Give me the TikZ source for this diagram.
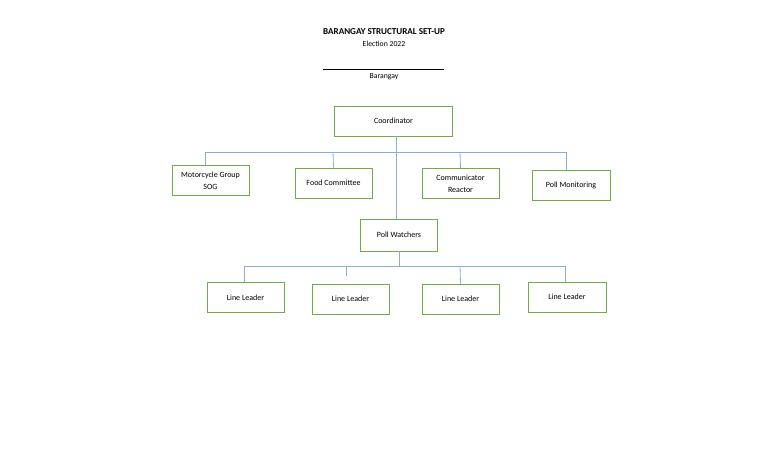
\documentclass[tikz,border=0pt]{standalone}
\usepackage{fontspec}
\setmainfont{Carlito}
\tikzset{
  box/.style={draw={rgb,255:red,112;green,173;blue,71},line width=0.7,minimum width=57.75pt,minimum height=22.5pt,inner sep=1pt,align=center,font=\fontsize{6}{9}\selectfont},
  link/.style={draw={rgb,255:red,143;green,170;blue,220},line width=0.6}
}
\begin{document}
\begin{tikzpicture}[x=0.75pt,y=0.75pt,yscale=-1,xscale=1]
\useasboundingbox (0,0) rectangle (768,466);

\node (title) at (384,32) {\fontsize{6.8}{8}\selectfont\bfseries BARANGAY STRUCTURAL SET-UP};
\node (year) at (384,44) {\fontsize{5.8}{7}\selectfont Election 2022};
\draw [line width=0.4] (323,69) -- (444,69);
\node (brgy) at (384,77) {\fontsize{5.8}{7}\selectfont Barangay};

% top level
\node (coord) [box,minimum width=89pt] at (393.5,121) {Coordinator};
\node (moto) [box] at (210.5,180.5) {Motorcycle Group\\SOG};
\node (food) [box] at (333.5,183) {Food Committee};
\node (comm) [box] at (460.5,183.5) {Communicator\\Reactor};
\node (poll) [box,minimum width=58.5pt] at (571,185) {Poll Monitoring};
\node (watch) [box,minimum height=24pt] at (399,235) {Poll Watchers};

% line leaders
\node (lead1) [box] at (245.5,297.5) {Line Leader};
\node (lead2) [box] at (350.5,299) {Line Leader};
\node (lead3) [box] at (460.5,299) {Line Leader};
\node (lead4) [box,minimum width=58.5pt] at (567,297) {Line Leader};

\coordinate (busa) at (205,152);
\coordinate (busb) at (566,152);
\coordinate (busc) at (244,266);
\coordinate (busd) at (565,266);
\coordinate (stem) at (396,136);

\draw [link] (busa) -- (busb);
\draw [link] (stem) -- (stem |- watch.north);
\draw [link] (busa) -- (busa |- moto.north);
\draw [link] (333,152) -- (food.north);
\draw [link] (460,152) -- (comm.north);
\draw [link] (busb) -- (busb |- poll.north);

\draw [link] (busc) -- (busd);
\draw [link] (watch.south) -- (watch.south |- busc);
\draw [link] (busc) -- (busc |- lead1.north);
\draw [link] (346,266) -- (346,276);
\draw [link] (460,266) -- (lead3.north);
\draw [link] (busd) -- (busd |- lead4.north);
\end{tikzpicture}
\end{document}
